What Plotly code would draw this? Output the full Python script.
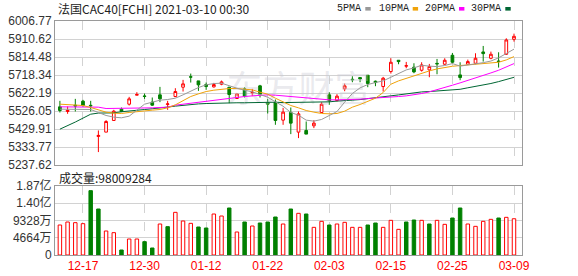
import plotly.graph_objects as go

# ---------------- data ----------------
dates = ["12-14", "12-15", "12-16", "12-17", "12-18", "12-21", "12-22", "12-23", "12-24", "12-28",
         "12-29", "12-30", "12-31", "01-04", "01-05", "01-06", "01-07", "01-08", "01-11", "01-12",
         "01-13", "01-14", "01-15", "01-18", "01-19", "01-20", "01-21", "01-22", "01-25", "01-26",
         "01-27", "01-28", "01-29", "02-01", "02-02", "02-03", "02-04", "02-05", "02-08", "02-09",
         "02-10", "02-11", "02-12", "02-15", "02-16", "02-17", "02-18", "02-19", "02-22", "02-23",
         "02-24", "02-25", "02-26", "03-01", "03-02", "03-03", "03-04", "03-05", "03-08", "03-09"]

opens = [5548.3, 5523.4, 5557.0, 5578.5, 5556.5, 5390.1, 5413.3, 5475.4, 5535.9, 5562.5,
         5610.5, 5606.5, 5573.2, 5612.3, 5561.0, 5603.4, 5653.2, 5709.0, 5686.9, 5667.4,
         5654.9, 5669.1, 5653.2, 5592.7, 5644.3, 5623.0, 5660.3, 5571.4, 5573.2, 5477.2,
         5518.1, 5413.3, 5422.1, 5447.0, 5518.1, 5612.3, 5582.1, 5644.3, 5695.5, 5704.6,
         5717.1, 5685.1, 5656.7, 5736.7, 5797.1, 5765.5, 5759.8, 5743.7, 5745.5, 5780.5,
         5775.8, 5823.7, 5718.9, 5775.8, 5781.1, 5841.5, 5807.7, 5793.0, 5829.1, 5909.0]
highs = [5580.3, 5550.1, 5590.9, 5585.6, 5580.3, 5422.1, 5477.2, 5532.3, 5544.7, 5601.6,
         5626.5, 5619.4, 5598.1, 5654.9, 5580.3, 5647.8, 5692.2, 5726.0, 5686.9, 5678.0,
         5676.3, 5688.7, 5653.2, 5617.0, 5653.2, 5644.3, 5665.6, 5589.2, 5587.4, 5543.0,
         5544.7, 5523.4, 5470.1, 5477.2, 5573.2, 5626.5, 5615.8, 5672.7, 5711.8, 5704.6,
         5717.1, 5688.7, 5708.2, 5807.7, 5797.1, 5788.2, 5781.1, 5786.4, 5777.5, 5804.2,
         5807.7, 5836.2, 5786.4, 5800.6, 5834.4, 5873.5, 5843.3, 5839.7, 5914.4, 5939.2]
lows = [5518.1, 5511.0, 5523.4, 5548.3, 5523.4, 5306.6, 5413.3, 5475.4, 5519.9, 5555.4,
        5608.7, 5590.9, 5553.6, 5573.2, 5532.3, 5599.8, 5630.1, 5678.0, 5633.6, 5639.0,
        5651.4, 5663.8, 5567.9, 5592.7, 5598.1, 5605.2, 5598.1, 5512.8, 5452.3, 5452.3,
        5402.6, 5381.3, 5402.6, 5434.6, 5518.1, 5559.0, 5576.7, 5631.8, 5679.8, 5679.8,
        5653.2, 5658.5, 5630.1, 5726.0, 5775.8, 5754.4, 5727.8, 5736.7, 5706.4, 5722.4,
        5772.2, 5781.1, 5690.5, 5775.8, 5775.8, 5790.0, 5802.4, 5758.0, 5825.5, 5896.6]
closes = [5528.7, 5530.0, 5553.0, 5555.4, 5554.0, 5395.5, 5470.1, 5525.2, 5523.4, 5590.9,
          5614.0, 5604.0, 5557.2, 5590.9, 5564.0, 5630.1, 5670.9, 5707.0, 5665.6, 5656.7,
          5667.4, 5681.6, 5614.0, 5617.0, 5605.2, 5626.0, 5615.8, 5562.5, 5475.4, 5519.9,
          5461.2, 5511.0, 5402.6, 5461.2, 5562.5, 5580.3, 5605.2, 5660.3, 5693.0, 5697.5,
          5672.7, 5678.0, 5701.1, 5786.4, 5790.0, 5768.0, 5734.9, 5772.2, 5763.3, 5778.0,
          5797.1, 5786.4, 5704.6, 5790.0, 5807.7, 5832.6, 5829.1, 5790.5, 5905.5, 5925.0]

ma5 = [5535.9, 5535.9, 5535.9, 5535.9, 5534.1, 5518.1, 5502.1, 5493.2, 5489.7, 5498.5,
       5532.3, 5562.5, 5573.2, 5583.8, 5587.4, 5594.5, 5612.3, 5633.6, 5651.4, 5665.6,
       5672.7, 5674.5, 5660.3, 5647.8, 5637.2, 5628.3, 5614.0, 5599.8, 5575.0, 5551.8,
       5518.1, 5503.9, 5477.2, 5471.9, 5480.8, 5503.9, 5523.4, 5573.2, 5619.4, 5649.6,
       5667.4, 5678.0, 5686.9, 5706.4, 5726.0, 5745.5, 5756.2, 5770.3, 5765.7, 5763.3,
       5769.1, 5779.4, 5765.9, 5771.2, 5777.2, 5784.3, 5792.8, 5810.0, 5833.1, 5856.5]
ma10 = [5562.5, 5560.7, 5558.9, 5555.4, 5544.7, 5530.5, 5519.9, 5514.5, 5512.8, 5518.1,
        5523.4, 5528.7, 5530.5, 5534.1, 5543.0, 5558.9, 5582.0, 5603.4, 5617.6, 5630.0,
        5637.2, 5642.5, 5646.0, 5646.0, 5642.5, 5638.9, 5626.5, 5615.8, 5594.5, 5573.2,
        5555.4, 5543.0, 5528.7, 5519.9, 5512.8, 5511.0, 5512.8, 5525.2, 5546.5, 5560.7,
        5578.5, 5594.5, 5624.7, 5669.1, 5686.9, 5701.1, 5715.3, 5727.8, 5740.2, 5750.9,
        5759.8, 5765.1, 5768.7, 5772.2, 5774.0, 5775.8, 5779.3, 5786.4, 5798.9, 5816.6]
ma20 = [5548.3, 5548.3, 5548.3, 5548.3, 5548.3, 5546.5, 5539.4, 5539.4, 5539.4, 5539.4,
        5539.4, 5543.0, 5543.0, 5544.7, 5546.5, 5557.2, 5562.5, 5567.9, 5571.4, 5576.7,
        5582.0, 5589.2, 5596.3, 5598.1, 5603.4, 5606.9, 5610.5, 5612.3, 5610.5, 5606.9,
        5603.4, 5598.1, 5594.5, 5590.9, 5587.4, 5585.6, 5585.6, 5585.6, 5587.4, 5589.2,
        5592.7, 5594.5, 5598.1, 5599.8, 5603.4, 5606.9, 5612.3, 5619.4, 5628.3, 5638.9,
        5651.4, 5663.8, 5676.3, 5688.7, 5701.1, 5713.6, 5729.5, 5743.7, 5761.5, 5779.3]
ma30 = [5429, 5447, 5467, 5488, 5509, 5515, 5515, 5516, 5522, 5527,
        5531, 5534, 5538, 5541, 5547, 5552, 5557, 5563, 5564, 5566,
        5568, 5568, 5570, 5570, 5570, 5571, 5571, 5573, 5573, 5571,
        5571, 5573, 5573, 5573, 5573, 5575, 5579, 5580, 5584, 5587,
        5591, 5596, 5602, 5607, 5612, 5618, 5623, 5628, 5630, 5632,
        5635, 5639, 5642, 5650, 5657, 5666, 5673, 5683, 5694, 5706]

volume_wan = [8112, 8923, 8743, 8472, 17395, 12438, 6489, 6039, 1352, 4326,
              4326, 3605, 1893, 8382, 7661, 11537, 9193, 8562, 7571, 7301,
              11086, 10545, 12708, 6219, 8923, 7841, 8652, 8923, 10275, 8382,
              12438, 11266, 11086, 7481, 9103, 8112, 8382, 8833, 7481, 7481,
              8112, 8652, 7481, 9374, 6940, 8923, 9464, 9374, 8382, 9374,
              8292, 10004, 12708, 8382, 7751, 9103, 9644, 10004, 10185, 9801]
volume_up = [1, 1, 1, 1, 0, 0, 1, 1, 0, 1,
             1, 0, 0, 1, 0, 1, 1, 1, 0, 0,
             1, 1, 0, 1, 0, 1, 0, 0, 0, 1,
             0, 1, 0, 1, 1, 0, 1, 1, 1, 1,
             0, 0, 1, 1, 1, 0, 0, 1, 0, 1,
             1, 0, 0, 1, 1, 1, 1, 0, 1, 1]

price_ticks = [5237.62, 5333.77, 5429.91, 5526.05, 5622.19, 5718.34, 5814.48, 5910.62, 6006.77]
vol_tickvals = [0, 4664, 9328, 13992, 18656]
vol_ticktext = ["0", "4664万", "9328万", "1.40亿", "1.87亿"]
x_tick_dates = ["12-17", "12-30", "01-12", "01-22", "02-03", "02-15", "02-25", "03-09"]
title_text = "法国CAC40[FCHI] 2021-03-10 00:30"
volume_text = "成交量:98009284"
ma_names = ["5PMA", "10PMA", "20PMA", "30PMA"]
watermark = "东方财富"
watermark_pos = ("01-28", 5622)

# ---------------- styling / geometry ----------------
W, H = 578, 276
L, R, T, B = 55, 522, 21, 255
PRICE_BOTTOM, VOL_TOP = 165, 186
PW, PH = R - L, B - T


def px_x(x):
    return (x - L) / PW


def px_y(y):
    return (B - y) / PH


RED = "#ff0000"
GREEN = "#008000"
ma_colors = ["#999999", "#f0a30a", "#ff00ff", "#006633"]
GRID = "#d2d2d2"
BORDER = "#9a9a9a"
LABEL = "#333333"
SANS = "Arial, Liberation Sans, Noto Sans CJK SC, sans-serif"
CJK = "Noto Sans CJK SC, Arial, sans-serif"
MONO = "Liberation Mono, DejaVu Sans Mono, monospace"

fig = go.Figure()

# watermark (drawn first, so it sits under everything)
fig.add_trace(go.Scatter(x=[watermark_pos[0]], y=[watermark_pos[1]], mode="text", text=[watermark],
                         textfont=dict(family=CJK, size=36, color="rgba(200,200,210,0.4)"),
                         hoverinfo="skip", showlegend=False, xaxis="x", yaxis="y"))

ma_series = [ma5, ma10, ma20, ma30]
for name, vals, col in zip(ma_names[::-1], ma_series[::-1], ma_colors[::-1]):
    fig.add_trace(go.Scatter(x=dates, y=vals, mode="lines", name=name,
                             line=dict(color=col, width=1),
                             hoverinfo="skip", showlegend=False, xaxis="x", yaxis="y"))

fig.add_trace(go.Candlestick(
    x=dates, open=opens, high=highs, low=lows, close=closes,
    increasing=dict(line=dict(color=RED, width=1), fillcolor="white"),
    decreasing=dict(line=dict(color=GREEN, width=1), fillcolor=GREEN),
    whiskerwidth=0, showlegend=False, xaxis="x", yaxis="y"))

fig.add_trace(go.Bar(
    x=dates, y=volume_wan, width=0.45,
    marker=dict(color=["white" if u else GREEN for u in volume_up],
                line=dict(color=[RED if u else GREEN for u in volume_up], width=1)),
    showlegend=False, xaxis="x2", yaxis="y2"))

xr = [-0.637, 60.04]
common_x = dict(type="category", categoryorder="array", categoryarray=dates,
                range=xr, tickmode="array", tickvals=x_tick_dates,
                showgrid=True, gridcolor=GRID, griddash="dash", gridwidth=1,
                showline=True, mirror=True, linecolor=BORDER, linewidth=1,
                zeroline=False, ticks="", fixedrange=True, automargin=False)

fig.update_layout(
    width=W, height=H,
    margin=dict(l=L, r=W - R, t=T, b=H - B),
    paper_bgcolor="white", plot_bgcolor="white",
    showlegend=False, boxgap=0.5,
    xaxis=dict(common_x, anchor="y", domain=[0, 1], showticklabels=False,
               rangeslider=dict(visible=False)),
    xaxis2=dict(common_x, anchor="y2", domain=[0, 1], showticklabels=True,
                ticktext=x_tick_dates,
                tickfont=dict(family=SANS, size=12, color=RED)),
    yaxis=dict(domain=[px_y(PRICE_BOTTOM), 1], range=[price_ticks[0], price_ticks[-1]],
               tickmode="array", tickvals=price_ticks,
               ticktext=["%.2f" % v for v in price_ticks], automargin=False,
               showgrid=True, gridcolor=GRID, gridwidth=1, zeroline=False,
               showline=True, mirror=True, linecolor=BORDER, linewidth=1,
               ticks="", tickfont=dict(family=SANS, size=12, color=LABEL), fixedrange=True),
    yaxis2=dict(domain=[0, px_y(VOL_TOP)], range=[vol_tickvals[0], vol_tickvals[-1]],
                tickmode="array", tickvals=vol_tickvals, ticktext=vol_ticktext, automargin=False,
                showgrid=True, gridcolor=GRID, gridwidth=1, zeroline=False,
                showline=True, mirror=True, linecolor=BORDER, linewidth=1,
                ticks="", tickfont=dict(family=SANS, size=12, color=LABEL), fixedrange=True),
)

annotations = [
    dict(x=px_x(56), y=px_y(9), xref="paper", yref="paper", text=title_text,
         showarrow=False, xanchor="left", yanchor="middle",
         font=dict(family=CJK, size=12, color="#222222")),
    dict(x=px_x(57), y=px_y(177), xref="paper", yref="paper", text=volume_text,
         showarrow=False, xanchor="left", yanchor="middle",
         font=dict(family=CJK, size=12, color="#222222")),
]
shapes = []
legend_rect_x = [365.3, 412.7, 459.0, 505.3]
for name, col, rx in zip(ma_names, ma_colors, legend_rect_x):
    annotations.append(dict(x=px_x(rx - 2), y=px_y(9), xref="paper", yref="paper",
                            text=name, showarrow=False, xanchor="right", yanchor="middle",
                            font=dict(family=MONO, size=10, color="#222222")))
    shapes.append(dict(type="rect", xref="paper", yref="paper",
                       x0=px_x(rx), x1=px_x(rx + 5.4), y0=px_y(10.6), y1=px_y(7.0),
                       fillcolor=col, line=dict(width=0)))

fig.update_layout(annotations=annotations, shapes=shapes)

fig.write_html("out.html")
